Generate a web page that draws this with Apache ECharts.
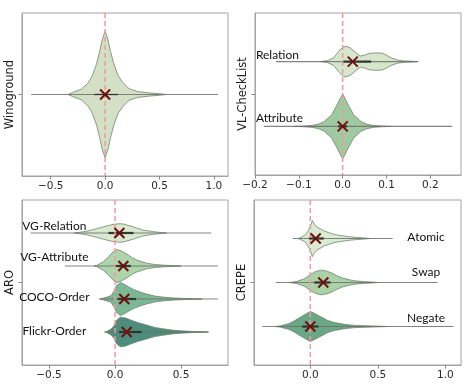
<!DOCTYPE html>
<html><head><meta charset="utf-8">
<script src="https://cdn.jsdelivr.net/npm/echarts@6/dist/echarts.min.js"></script>
<style>html,body{margin:0;padding:0;background:#fff}#c{width:474px;height:389px}</style>
</head><body><div id="c"></div>
<script>
// ---- panel meta ----
const panelTitles = ['Winoground', 'VL-CheckList', 'ARO', 'CREPE'];
const panelHues = [
  ['Winoground'],
  ['Relation', 'Attribute'],
  ['VG-Relation', 'VG-Attribute', 'COCO-Order', 'Flickr-Order'],
  ['Atomic', 'Swap', 'Negate']
];
const xTicks = [[-0.5, 0, 0.5, 1.0], [-0.2, -0.1, 0, 0.1, 0.2], [-0.5, 0, 0.5], [0, 0.5, 1.0]];
const xRanges = [[-0.764, 1.13], [-0.2, 0.27], [-0.705, 0.856], [-0.417, 1.116]];

// ---- density profiles (x, relative density) ----
const winoX = [-0.34, -0.30, -0.22, -0.16, -0.12, -0.08, -0.05, -0.025, 0.0, 0.025, 0.05, 0.08, 0.12, 0.16, 0.22, 0.30, 0.40, 0.50, 0.56];
const winoD = [0, 0.03, 0.08, 0.17, 0.28, 0.46, 0.66, 0.85, 0.97, 0.85, 0.66, 0.47, 0.29, 0.19, 0.09, 0.045, 0.025, 0.012, 0];

const vlRelX = [-0.05, -0.035, -0.02, -0.01, 0.0, 0.008, 0.018, 0.03, 0.04, 0.05, 0.06, 0.075, 0.09, 0.10, 0.11, 0.125, 0.14, 0.16, 0.17];
const vlRelD = [0, 0.03, 0.12, 0.30, 0.44, 0.47, 0.42, 0.28, 0.17, 0.20, 0.25, 0.27, 0.26, 0.20, 0.12, 0.05, 0.02, 0.01, 0];
const vlAttX = [-0.11, -0.09, -0.07, -0.055, -0.042, -0.025, -0.013, -0.006, 0.0, 0.006, 0.013, 0.025, 0.042, 0.055, 0.07, 0.09, 0.11];
const vlAttD = [0, 0.01, 0.03, 0.07, 0.15, 0.36, 0.66, 0.85, 1.0, 0.85, 0.66, 0.36, 0.15, 0.07, 0.03, 0.01, 0];

const vgRelX = [-0.31, -0.28, -0.22, -0.17, -0.09, -0.015, 0.03, 0.06, 0.14, 0.21, 0.29, 0.36, 0.39];
const vgRelD = [0, 0.03, 0.10, 0.20, 0.37, 0.52, 0.56, 0.55, 0.37, 0.18, 0.08, 0.02, 0];
const vgAttX = [-0.16, -0.14, -0.09, -0.05, -0.015, 0.015, 0.05, 0.09, 0.13, 0.165, 0.24, 0.30, 0.37, 0.47, 0.50];
const vgAttD = [0, 0.03, 0.25, 0.55, 0.85, 1.0, 0.90, 0.72, 0.50, 0.36, 0.17, 0.09, 0.05, 0.01, 0];
const cocoX = [-0.12, -0.10, -0.06, -0.03, -0.01, 0.01, 0.04, 0.07, 0.10, 0.14, 0.19, 0.24, 0.30, 0.37, 0.45, 0.54, 0.62, 0.66];
const cocoD = [0, 0.03, 0.12, 0.20, 0.45, 0.80, 1.0, 0.90, 0.75, 0.58, 0.42, 0.30, 0.18, 0.11, 0.06, 0.03, 0.01, 0];
const flickrX = [-0.08, -0.06, -0.035, -0.01, 0.01, 0.04, 0.08, 0.12, 0.17, 0.24, 0.30, 0.36, 0.43, 0.50, 0.60, 0.68, 0.71];
const flickrD = [0, 0.05, 0.15, 0.35, 0.70, 0.90, 0.85, 0.72, 0.58, 0.42, 0.28, 0.20, 0.12, 0.07, 0.03, 0.01, 0];

const atomX = [-0.09, -0.07, -0.04, -0.02, 0.0, 0.015, 0.03, 0.05, 0.075, 0.10, 0.135, 0.18, 0.23, 0.29, 0.34, 0.41, 0.44];
const atomD = [0, 0.05, 0.15, 0.30, 0.55, 0.82, 0.65, 0.52, 0.44, 0.35, 0.27, 0.18, 0.13, 0.08, 0.05, 0.02, 0];
const swapX = [-0.16, -0.13, -0.10, -0.04, 0.0, 0.04, 0.08, 0.12, 0.16, 0.20, 0.24, 0.29, 0.34, 0.40, 0.46, 0.50];
const swapD = [0, 0.02, 0.05, 0.18, 0.36, 0.50, 0.56, 0.52, 0.43, 0.30, 0.20, 0.12, 0.07, 0.04, 0.02, 0];
const negX = [-0.26, -0.22, -0.16, -0.12, -0.09, -0.04, 0.0, 0.03, 0.06, 0.10, 0.13, 0.18, 0.23, 0.28, 0.33, 0.42, 0.53, 0.57];
const negD = [0, 0.03, 0.13, 0.25, 0.36, 0.55, 0.68, 0.60, 0.50, 0.37, 0.27, 0.18, 0.12, 0.08, 0.05, 0.03, 0.01, 0];

// ---- stats: [min, q1, q3, max, mean] ----
const winoStats   = [-0.68, -0.10, 0.12, 1.04, 0.0];
const vlRelStats  = [-0.152, 0.0, 0.065, 0.173, 0.023];
const vlAttStats  = [-0.18, -0.01, 0.01, 0.25, 0.0];
const vgRelStats  = [-0.64, -0.05, 0.14, 0.73, 0.033];
const vgAttStats  = [-0.38, 0.0, 0.12, 0.78, 0.063];
const cocoStats   = [-0.11, 0.02, 0.16, 0.78, 0.07];
const flickrStats = [-0.06, 0.03, 0.20, 0.70, 0.088];
const atomStats   = [-0.13, -0.01, 0.10, 0.61, 0.04];
const swapStats   = [-0.257, 0.03, 0.15, 0.94, 0.096];
const negStats    = [-0.355, -0.06, 0.06, 1.06, 0.0];

// ---- in-plot label anchors [x, y] (data units) ----
const labelPos = [
  [],
  [[-0.198, -0.241], [-0.198, 0.15]],
  [[-0.46, -0.344], [-0.46, -0.155], [-0.46, 0.088], [-0.46, 0.294]],
  [[0.857, -0.272], [0.857, -0.062], [0.857, 0.213]]
];
const labelAlign = ['left', 'left', 'center', 'center'];

const fills = [
  ['#d3e0c6'],
  ['#d5e6cb', '#9fc99f'],
  ['#d7eacf', '#acd5ab', '#7bb893', '#4c8d7b'],
  ['#d9ebd2', '#a9d3a7', '#6aa785']
];
const iqrWidths = [1.3, 2.2, 2.2, 2.2];

const profiles = [
  [[winoX, winoD, winoStats]],
  [[vlRelX, vlRelD, vlRelStats], [vlAttX, vlAttD, vlAttStats]],
  [[vgRelX, vgRelD, vgRelStats], [vgAttX, vgAttD, vgAttStats], [cocoX, cocoD, cocoStats], [flickrX, flickrD, flickrStats]],
  [[atomX, atomD, atomStats], [swapX, swapD, swapStats], [negX, negD, negStats]]
];

const grids = [
  {left: 22, top: 13, width: 206, height: 163},
  {left: 255, top: 13, width: 206, height: 162},
  {left: 22, top: 200, width: 206, height: 165},
  {left: 254, top: 200, width: 207, height: 165}
];

function hueCenter(nh, h) { return -0.4 + 0.8 / nh * (h + 0.5); }
function fmt(v) { return (v < 0 ? '\u2212' : '') + Math.abs(v).toFixed(1); }

const FRAME = '#a3a3a3';
const xAxes = [], yAxes = [], series = [];
for (let p = 0; p < 4; p++) {
  xAxes.push({
    gridIndex: p, type: 'value', min: xRanges[p][0], max: xRanges[p][1],
    splitLine: {show: false},
    axisLine: {show: true, onZero: false, lineStyle: {color: FRAME, width: 1}},
    axisTick: {show: true, customValues: xTicks[p], length: 3.5, lineStyle: {color: '#888'}},
    axisLabel: {customValues: xTicks[p], formatter: fmt, margin: 5, fontFamily: 'DejaVu Sans', fontSize: 10.5, color: '#2a2a2a'}
  });
  yAxes.push({
    gridIndex: p, type: 'value', min: -0.5, max: 0.5, inverse: true,
    splitLine: {show: false},
    axisLine: {show: true, onZero: false, lineStyle: {color: FRAME, width: 1}},
    axisTick: {show: true, customValues: [0], length: 3.5, lineStyle: {color: '#888'}},
    axisLabel: {show: false},
    name: panelTitles[p], nameLocation: 'middle', nameGap: 6,
    nameTextStyle: {fontFamily: 'DejaVu Sans', fontSize: 11.5, color: '#222'}
  });
  const nh = panelHues[p].length;
  // violins
  series.push({
    type: 'custom', xAxisIndex: p, yAxisIndex: p, z: 2, clip: true, silent: true,
    data: profiles[p].map((pr, h) => [pr[2][4], hueCenter(nh, h)]),
    renderItem: (params, api) => {
      const h = params.dataIndex;
      const [xs, ds, st] = profiles[p][h];
      const pos = hueCenter(nh, h), half = 0.4 / nh;
      const top = [], bot = [];
      for (let i = 0; i < xs.length; i++) {
        top.push(api.coord([xs[i], pos - ds[i] * half]));
        bot.unshift(api.coord([xs[i], pos + ds[i] * half]));
      }
      const a = api.coord([st[0], pos]), b = api.coord([st[3], pos]);
      const q1 = api.coord([st[1], pos]), q3 = api.coord([st[2], pos]);
      return {type: 'group', children: [
        {type: 'polygon', shape: {points: top.concat(bot)}, style: {fill: fills[p][h], stroke: '#72836e', lineWidth: 0.8}},
        {type: 'line', shape: {x1: a[0], y1: a[1], x2: b[0], y2: b[1]}, style: {stroke: '#6e6e6e', lineWidth: 1.1, opacity: 0.85}},
        {type: 'line', shape: {x1: q1[0], y1: q1[1], x2: q3[0], y2: q3[1]}, style: {stroke: '#333', lineWidth: iqrWidths[p]}}
      ]};
    }
  });
  // zero reference line
  series.push({
    type: 'line', xAxisIndex: p, yAxisIndex: p, z: 3, silent: true, symbol: 'none',
    data: [[0, -0.5], [0, 0.5]],
    lineStyle: {color: '#f19a9a', width: 1.5, type: [5, 3]}
  });
  // mean markers + labels
  series.push({
    type: 'custom', xAxisIndex: p, yAxisIndex: p, z: 4, clip: false, silent: true,
    data: profiles[p].map((pr, h) => [pr[2][4], hueCenter(nh, h)]),
    renderItem: (params, api) => {
      const h = params.dataIndex;
      const c = api.coord([api.value(0), api.value(1)]);
      const s = 5;
      const children = [
        {type: 'line', shape: {x1: c[0] - s, y1: c[1] - s, x2: c[0] + s, y2: c[1] + s}, style: {stroke: '#6e0f0f', lineWidth: 2}},
        {type: 'line', shape: {x1: c[0] - s, y1: c[1] + s, x2: c[0] + s, y2: c[1] - s}, style: {stroke: '#6e0f0f', lineWidth: 2}}
      ];
      if (labelPos[p][h]) {
        const lp = api.coord(labelPos[p][h]);
        children.push({type: 'text', x: lp[0], y: lp[1], style: {
          text: panelHues[p][h], fill: '#111', font: '12px Lato', align: labelAlign[p], verticalAlign: 'middle'}});
      }
      return {type: 'group', children};
    }
  });
}

const chart = echarts.init(document.getElementById('c'), null, {renderer: 'canvas'});
chart.setOption({
  backgroundColor: '#fff',
  animation: false,
  grid: grids.map(g => Object.assign({show: true, borderColor: FRAME, borderWidth: 1, backgroundColor: 'transparent'}, g)),
  xAxis: xAxes,
  yAxis: yAxes,
  series
});
</script></body></html>
